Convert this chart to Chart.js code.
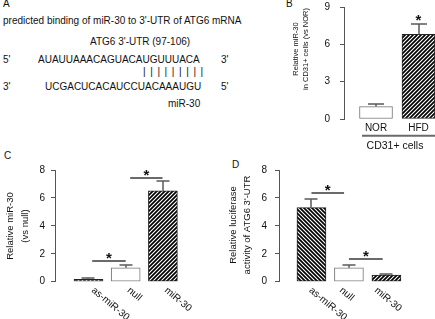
<!DOCTYPE html>
<html>
<head>
<meta charset="utf-8">
<script src="https://cdn.jsdelivr.net/npm/chart.js@4.4.1/dist/chart.umd.min.js"></script>
<style>
html, body { margin: 0; padding: 0; background: #fff; }
#wrap { position: relative; width: 435px; height: 319px; overflow: hidden; background: #fff;
        font-family: "Liberation Sans", Arial, sans-serif; color: #111; }
#wrap canvas { position: absolute; left: 0; top: 0; }
.t { position: absolute; white-space: nowrap; font-size: 10px; line-height: 10px; }
</style>
</head>
<body>
<div id="wrap">
  <div class="t" style="left:3px;top:-1px">A</div>
  <div class="t" style="left:3px;top:16px">predicted binding of miR-30 to 3'-UTR of ATG6 mRNA</div>
  <div class="t" style="left:90px;top:37px">ATG6 3'-UTR (97-106)</div>
  <div class="t" style="left:3px;top:55px">5'</div>
  <div class="t" id="seq1" style="left:38px;top:55px">AUAUUAAACAGUACAUGUUUACA</div>
  <div class="t" style="left:221px;top:55px">3'</div>
  <div class="t" style="left:143px;top:67px;letter-spacing:4.6px">|||||||||</div>
  <div class="t" style="left:3px;top:82px">3'</div>
  <div class="t" id="seq2" style="left:45px;top:82px">UCGACUCACAUCCUACAAAUGU</div>
  <div class="t" style="left:221px;top:82px">5'</div>
  <div class="t" style="left:168px;top:99px">miR-30</div>
  <div class="t" style="left:286px;top:-1px">B</div>
  <div class="t" style="left:4px;top:151px">C</div>
  <div class="t" style="left:232px;top:160px">D</div>
  <canvas id="chartB" width="435" height="319"></canvas>
  <canvas id="chartC" width="435" height="319"></canvas>
  <canvas id="chartD" width="435" height="319"></canvas>
</div>
<script>
// ---------- data ----------
const panelBCategories = ['NOR', 'HFD'];
const panelBValues = [1.0, 6.8];
const panelBErrors = [0.2, 0.8];
const panelBTicks = [0, 3, 6, 9];

const panelCCategories = ['as-miR-30', 'null', 'miR-30'];
const panelCValues = [0.17, 1.0, 6.5];
const panelCErrors = [0.1, 0.23, 0.7];
const panelCTicks = [0, 2, 4, 6, 8];

const panelDCategories = ['as-miR-30', 'null', 'miR-30'];
const panelDValues = [5.3, 1.0, 0.48];
const panelDErrors = [0.62, 0.2, 0.07];
const panelDTicks = [0, 2, 4, 6, 8];

// significance brackets: [from category, to category, level]
const panelCSignificance = [[0.1, 1.0, 1.5], [1.12, 1.99, 7.45]];
const panelDSignificance = [[0.0, 0.87, 6.38], [1.0, 1.9, 1.63]];
// stars placed directly above a bar's error bar
const panelBStarBars = [1];

const FONT = '"Liberation Sans", Arial, sans-serif';

function hatch(dir, p, lw) {
  const c = document.createElement('canvas');
  c.width = p; c.height = p;
  const g = c.getContext('2d');
  g.fillStyle = '#fff'; g.fillRect(0, 0, p, p);
  g.strokeStyle = '#000'; g.lineWidth = lw;
  g.beginPath();
  if (dir === '/') {
    g.moveTo(-1, p + 1); g.lineTo(p + 1, -1);
    g.moveTo(-2, 2); g.lineTo(2, -2);
    g.moveTo(p - 2, p + 2); g.lineTo(p + 2, p - 2);
  } else {
    g.moveTo(-1, -1); g.lineTo(p + 1, p + 1);
    g.moveTo(p - 2, -2); g.lineTo(p + 2, 2);
    g.moveTo(-2, p - 2); g.lineTo(2, p + 2);
  }
  g.stroke();
  return g.createPattern(c, 'repeat');
}

const annotPlugin = {
  id: 'annot',
  afterDraw(chart, args, o) {
    const ctx = chart.ctx;
    const xs = chart.scales.x, ys = chart.scales.y;
    const area = chart.chartArea;
    const base = ys.getPixelForValue(0);
    ctx.save();
    // error bars (upper only)
    ctx.strokeStyle = '#5a5a5a';
    ctx.lineWidth = 1.5;
    o.values.forEach((v, i) => {
      const x = Math.round(xs.getPixelForValue(i));
      const y0 = ys.getPixelForValue(v);
      const y1 = Math.round(ys.getPixelForValue(v + o.errors[i]));
      ctx.beginPath();
      ctx.moveTo(x, y0); ctx.lineTo(x, y1);
      ctx.moveTo(x - o.cap, y1); ctx.lineTo(x + o.cap, y1);
      ctx.stroke();
    });
    // significance brackets + stars
    ctx.fillStyle = '#111';
    ctx.font = 'bold 15px ' + FONT;
    ctx.textAlign = 'center';
    ctx.textBaseline = 'alphabetic';
    (o.sig || []).forEach(s => {
      const xa = xs.getPixelForValue(s[0]), xb = xs.getPixelForValue(s[1]);
      const y = Math.round(ys.getPixelForValue(s[2]));
      ctx.strokeStyle = '#6a6a6a'; ctx.lineWidth = 2;
      ctx.beginPath(); ctx.moveTo(xa, y); ctx.lineTo(xb, y); ctx.stroke();
      ctx.fillText('*', (xa + xb) / 2, y - 7 + 8.5);
    });
    (o.starBars || []).forEach(i => {
      const x = xs.getPixelForValue(i);
      const y = ys.getPixelForValue(o.values[i] + o.errors[i]) - 8;
      ctx.fillText('*', x, y + 8.5);
    });
    // category labels
    ctx.fillStyle = '#111';
    ctx.font = '10px ' + FONT;
    o.labels.forEach((lab, i) => {
      const x = xs.getPixelForValue(i);
      if (o.rotate) {
        ctx.save();
        ctx.translate(x + o.labelDx[i], base + o.labelDy);
        ctx.rotate(o.rotate * Math.PI / 180);
        ctx.textAlign = 'left';
        ctx.textBaseline = 'top';
        ctx.fillText(lab, 0, 0);
        ctx.restore();
      } else {
        ctx.textAlign = 'center';
        ctx.textBaseline = 'middle';
        ctx.fillText(lab, x, base + o.labelDy);
      }
    });
    // group line
    if (o.group) {
      const g = o.group;
      ctx.strokeStyle = '#6a6a6a'; ctx.lineWidth = 2;
      ctx.beginPath();
      ctx.moveTo(xs.getPixelForValue(g.from), base + g.lineDy);
      ctx.lineTo(xs.getPixelForValue(g.to), base + g.lineDy);
      ctx.stroke();
      ctx.textAlign = 'center'; ctx.textBaseline = 'middle';
      ctx.font = '10.5px ' + FONT;
      ctx.fillText(g.text, g.cx, base + g.textDy);
    }
    // y-axis title
    const t = o.yTitle;
    ctx.font = t.size + 'px ' + FONT;
    ctx.textAlign = 'center'; ctx.textBaseline = 'middle';
    t.lines.forEach((line, k) => {
      ctx.save();
      ctx.translate(area.left + t.dx[k], t.cy);
      ctx.rotate(-Math.PI / 2);
      ctx.fillText(line, 0, 0);
      ctx.restore();
    });
    ctx.restore();
  }
};

function makeChart(id, cfg) {
  return new Chart(document.getElementById(id), {
    type: 'bar',
    data: {
      datasets: [{
        data: cfg.categories.map((c, i) => ({ x: i, y: cfg.values[i] })),
        backgroundColor: cfg.fills,
        borderColor: cfg.borders,
        borderWidth: 1,
        borderSkipped: false,
        barThickness: cfg.barWidth
      }]
    },
    options: {
      responsive: false,
      animation: false,
      events: [],
      layout: { padding: cfg.padding, autoPadding: false },
      plugins: {
        legend: { display: false },
        tooltip: { enabled: false },
        annot: {
          values: cfg.values, errors: cfg.errors, cap: cfg.cap,
          sig: cfg.sig, starBars: cfg.starBars, labels: cfg.categories,
          rotate: cfg.rotate, labelDx: cfg.labelDx, labelDy: cfg.labelDy,
          group: cfg.group, yTitle: cfg.yTitle
        }
      },
      scales: {
        x: { type: 'linear', display: false, offset: false, bounds: 'data',
             grid: { offset: false }, min: cfg.xMin, max: cfg.xMax },
        y: {
          min: 0, max: cfg.ticks[cfg.ticks.length - 1],
          afterFit: s => { s.width = cfg.axisX; s.paddingTop = 0; s.paddingBottom = 0; },
          afterBuildTicks: s => { s.ticks = cfg.ticks.map(v => ({ value: v })); },
          ticks: { font: { family: FONT, size: 10 }, color: '#111', padding: cfg.tickPad },
          grid: { drawOnChartArea: false, drawTicks: true, tickLength: 4, color: '#555', lineWidth: 1 },
          border: { display: true, color: '#555', width: 1 }
        }
      }
    },
    plugins: [annotPlugin]
  });
}

makeChart('chartB', {
  categories: panelBCategories, values: panelBValues, errors: panelBErrors, ticks: panelBTicks,
  fills: ['#fff', hatch('/', 4, 1.7)], borders: ['#777', '#222'],
  barWidth: 33, cap: 8,
  padding: { left: 0, top: 7, right: 0, bottom: 200 }, axisX: 344, tickPad: 10,
  xMin: -0.753, xMax: 1.388,
  starBars: panelBStarBars, labelDy: 9,
  group: { from: -0.33, to: 1.39, lineDy: 16.7, text: 'CD31+ cells', cx: 395, textDy: 27 },
  yTitle: { lines: ['Relative miR-30', 'in CD31+ cells (vs NOR)'], dx: [-48, -38], cy: 49, size: 7.5 }
});

makeChart('chartC', {
  categories: panelCCategories, values: panelCValues, errors: panelCErrors, ticks: panelCTicks,
  fills: [hatch('\\', 4, 1.7), '#fff', hatch('/', 4, 1.7)], borders: ['#222', '#777', '#222'],
  barWidth: 29, cap: 6.5,
  padding: { left: 0, top: 170, right: 235, bottom: 37.3 }, axisX: 55, tickPad: 6,
  xMin: -0.9, xMax: 2.997,
  sig: panelCSignificance, rotate: 40, labelDx: [7.5, 6, 6], labelDy: 3.5,
  yTitle: { lines: ['Relative miR-30', '(vs null)'], dx: [-45, -30], cy: 226, size: 9.5 }
});

makeChart('chartD', {
  categories: panelDCategories, values: panelDValues, errors: panelDErrors, ticks: panelDTicks,
  fills: [hatch('\\', 4, 1.7), '#fff', hatch('/', 4, 1.7)], borders: ['#222', '#777', '#222'],
  barWidth: 29, cap: 6.5,
  padding: { left: 0, top: 170, right: 5, bottom: 37.3 }, axisX: 279, tickPad: 8,
  xMin: -0.866, xMax: 3.163,
  sig: panelDSignificance, rotate: 40, labelDx: [2, -5, -7.5], labelDy: 3.5,
  yTitle: { lines: ['Relative luciferase', 'activity of ATG6 3\'-UTR'], dx: [-46, -32], cy: 225, size: 9.5 }
});
</script>
</body>
</html>
